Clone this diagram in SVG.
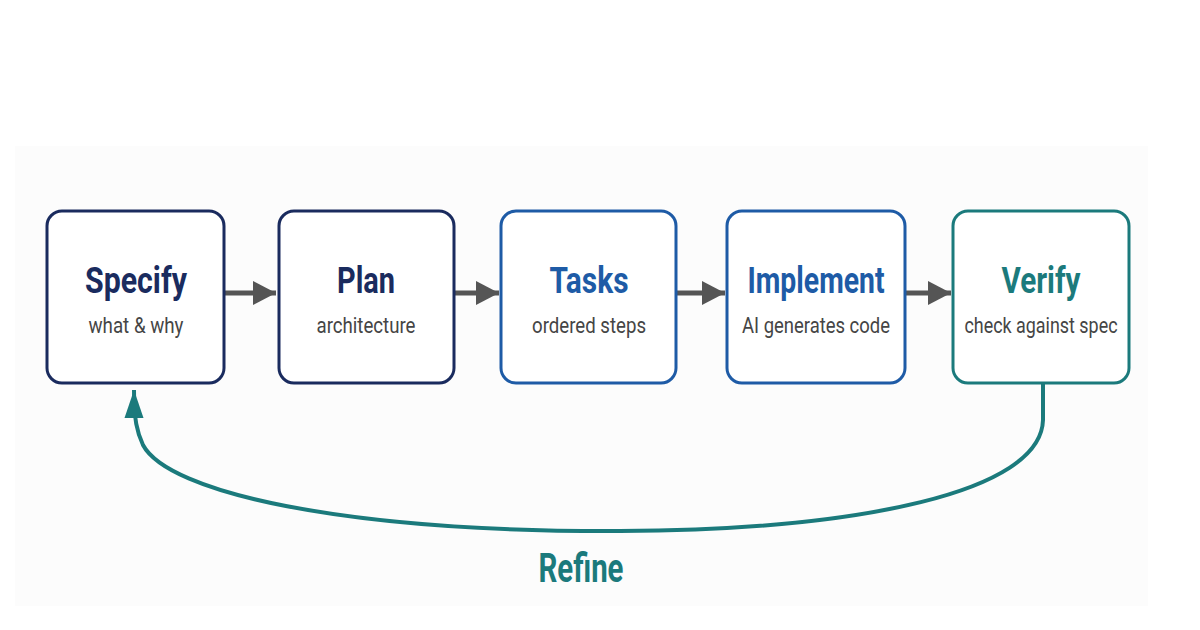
<svg xmlns="http://www.w3.org/2000/svg" width="1200" height="630" viewBox="0 0 1200 630">
<defs>
<style>
.box{fill:#ffffff;stroke-width:3}
.navy{stroke:#1a2b5e}
.blue{stroke:#1e5ba6}
.teal{stroke:#1b7a7c}
.t{font-family:Roboto,"Liberation Sans",sans-serif;font-weight:700;font-size:37px;text-anchor:middle}
.s{font-family:Roboto,"Liberation Sans",sans-serif;font-weight:400;font-size:22px;fill:#454545;text-anchor:middle}
.conn{stroke:#555555;stroke-width:5;fill:none}
</style>
<marker id="ah" markerUnits="userSpaceOnUse" markerWidth="26" markerHeight="28" viewBox="0 0 26 28" refX="23" refY="14" orient="auto">
<path d="M0,2 L23,14 L0,26 Z" fill="#555555"/>
</marker>
<marker id="ahTeal" markerUnits="userSpaceOnUse" markerWidth="30" markerHeight="22" viewBox="0 0 30 22" refX="28" refY="11" orient="auto">
<path d="M0,1.5 L28,11 L0,20.5 Z" fill="#1b7a7c"/>
</marker>
</defs>
<rect x="0" y="0" width="1200" height="630" fill="#ffffff"/>
<rect x="15" y="146" width="1133" height="460" fill="#fcfcfc"/>
<g id="connectors">
<line class="conn" x1="225" y1="293" x2="276" y2="293" marker-end="url(#ah)"/>
<line class="conn" x1="455" y1="293" x2="499" y2="293" marker-end="url(#ah)"/>
<line class="conn" x1="677" y1="293" x2="725" y2="293" marker-end="url(#ah)"/>
<line class="conn" x1="906" y1="293" x2="951" y2="293" marker-end="url(#ah)"/>
<path d="M1043,384 L1043,420 C1041,492 860,530 620,531 C340,532 168,492 143,445 C137,432 134,420 134,390" fill="none" stroke="#1b7a7c" stroke-width="4" marker-end="url(#ahTeal)"/>
<text x="581" y="582" font-family="Roboto,'Liberation Sans',sans-serif" font-weight="700" font-size="40" fill="#1b7a7c" text-anchor="middle" textLength="85" lengthAdjust="spacingAndGlyphs">Refine</text>
</g>
<g id="specify">
<rect class="box navy" x="47" y="211" width="177" height="172" rx="15"/>
<text class="t" x="136" y="293" fill="#1a2b5e" textLength="102" lengthAdjust="spacingAndGlyphs">Specify</text>
<text class="s" x="136" y="333" textLength="95" lengthAdjust="spacingAndGlyphs">what &amp; why</text>
</g>
<g id="plan">
<rect class="box navy" x="279" y="211" width="175" height="172" rx="15"/>
<text class="t" x="366" y="293" fill="#1a2b5e" textLength="58" lengthAdjust="spacingAndGlyphs">Plan</text>
<text class="s" x="366" y="333" textLength="99" lengthAdjust="spacingAndGlyphs">architecture</text>
</g>
<g id="tasks">
<rect class="box blue" x="501" y="211" width="175" height="172" rx="15"/>
<text class="t" x="589" y="293" fill="#1e5ba6" textLength="79" lengthAdjust="spacingAndGlyphs">Tasks</text>
<text class="s" x="589" y="333" textLength="114" lengthAdjust="spacingAndGlyphs">ordered steps</text>
</g>
<g id="implement">
<rect class="box blue" x="727" y="211" width="178" height="172" rx="15"/>
<text class="t" x="816" y="293" fill="#1e5ba6" textLength="137" lengthAdjust="spacingAndGlyphs">Implement</text>
<text class="s" x="816" y="333" textLength="148" lengthAdjust="spacingAndGlyphs">AI generates code</text>
</g>
<g id="verify">
<rect class="box teal" x="953" y="211" width="176" height="172" rx="15"/>
<text class="t" x="1041" y="293" fill="#1b7a7c" textLength="79" lengthAdjust="spacingAndGlyphs">Verify</text>
<text class="s" x="1041" y="333" textLength="153" lengthAdjust="spacingAndGlyphs">check against spec</text>
</g>
</svg>
